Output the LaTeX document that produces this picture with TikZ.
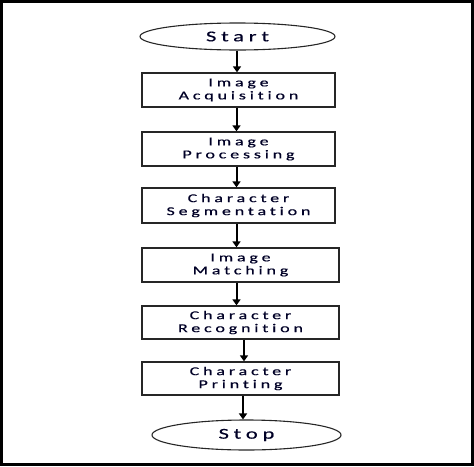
\documentclass[tikz,border=0pt]{standalone}
\usepackage{fontspec}
\setmainfont{Carlito}[FakeStretch=1.5,LetterSpace=32,FakeBold=0.5,Ligatures={NoCommon,NoRequired,NoContextual}]
\usetikzlibrary{arrows.meta,shapes.geometric}
\begin{document}
\begin{tikzpicture}[x=1pt,y=-1pt,
  stepbox/.style={draw=black!85,line width=1.3pt,rectangle,inner sep=0pt,
    align=center,font=\fontsize{12}{13}\selectfont,text=black!85!blue},
  term/.style={draw=black!85,line width=1.1pt,ellipse,inner sep=0pt,
    font=\fontsize{15}{16}\selectfont,text=black!85!blue},
  arr/.style={line width=2pt,-{Triangle[width=8pt,length=6pt]}}]
\useasboundingbox (0,0) rectangle (474,466);
\draw[line width=3pt] (1.5,1.5) rectangle (472.5,464.5);
\node[term,minimum width=195pt,minimum height=27pt] (start) at (237.5,36.5) {Start};
\node[stepbox,minimum width=193pt,minimum height=34pt] (b1) at (238.5,90) {Image\\Acquisition};
\node[stepbox,minimum width=193pt,minimum height=34pt] (b2) at (238.5,149) {Image\\Processing};
\node[stepbox,minimum width=193pt,minimum height=35pt] (b3) at (238.5,205.5) {Character\\Segmentation};
\node[stepbox,minimum width=197pt,minimum height=34pt] (b4) at (240.5,265) {Image\\Matching};
\node[stepbox,minimum width=197pt,minimum height=33pt] (b5) at (240.5,322.5) {Character\\Recognition};
\node[stepbox,minimum width=197pt,minimum height=33pt] (b6) at (240.5,378.5) {Character\\Printing};
\node[term,minimum width=189pt,minimum height=30pt] (stop) at (246.5,435) {Stop};
\draw[arr] ([xshift=-0.5pt]start.south) -- ([xshift=-1.5pt]b1.north);
\draw[arr] ([xshift=-2pt]b1.south) -- ([xshift=-2pt]b2.north);
\draw[arr] ([xshift=-2pt]b2.south) -- ([xshift=-2pt]b3.north);
\draw[arr] ([xshift=-2pt]b3.south) -- ([xshift=-4pt]b4.north);
\draw[arr] ([xshift=-4pt]b4.south) -- ([xshift=-4pt]b5.north);
\draw[arr] ([xshift=3.5pt]b5.south) -- ([xshift=3.5pt]b6.north);
\draw[arr] ([xshift=2.5pt]b6.south) -- ([xshift=-3.5pt]stop.north);
\end{tikzpicture}
\end{document}
